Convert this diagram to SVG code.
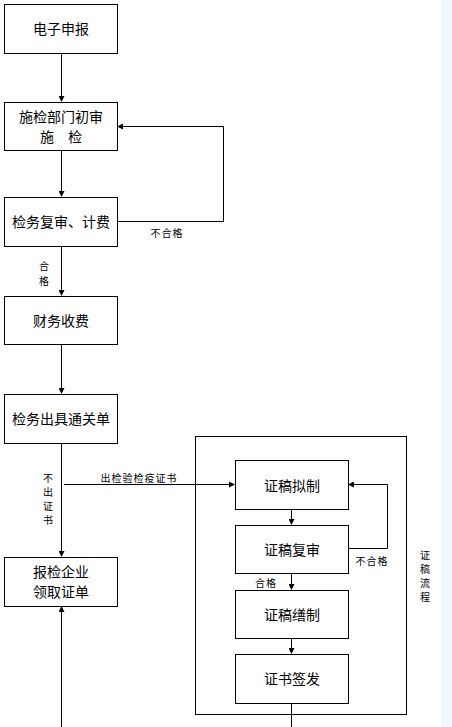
<svg xmlns="http://www.w3.org/2000/svg" width="452" height="727" viewBox="0 0 452 727">
<style>
.box{fill:#fff;stroke:#000;stroke-width:1}
.t{font-family:"Noto Sans CJK SC","Liberation Sans",sans-serif;font-size:14px;fill:#000;text-anchor:middle;dominant-baseline:central}
.s{font-family:"Noto Sans CJK SC","Liberation Sans",sans-serif;font-size:10px;fill:#000;text-anchor:middle;dominant-baseline:central}
.c{fill:none;stroke:#000;stroke-width:1}
</style>
<defs>
<marker id="ah" markerWidth="6" markerHeight="6" refX="5" refY="3" orient="auto" markerUnits="userSpaceOnUse">
<path d="M0,0 L6,3 L0,6 Z" fill="#000"/>
</marker>
</defs>
<rect width="452" height="727" fill="#fff"/>
<rect x="441" y="0" width="11" height="727" fill="#f0f9ff"/>
<g id="frame"><rect x="195.5" y="436.5" width="211" height="278" class="box" fill="none"/></g>
<g id="connectors">
<path class="c" d="M61.5,53 V101" marker-end="url(#ah)"/>
<path class="c" d="M61.5,150 V196" marker-end="url(#ah)"/>
<path class="c" d="M117,221.5 H223.5 V126.5 H118" marker-end="url(#ah)"/>
<path class="c" d="M61.5,247 V295" marker-end="url(#ah)"/>
<path class="c" d="M61.5,344 V393" marker-end="url(#ah)"/>
<path class="c" d="M61.5,443 V556" marker-end="url(#ah)"/>
<path class="c" d="M64,484.5 H234" marker-end="url(#ah)"/>
<path class="c" d="M61.5,727 V607" marker-end="url(#ah)"/>
<path class="c" d="M291.5,509 V524" marker-end="url(#ah)"/>
<path class="c" d="M348,548.5 H387.5 V484.5 H349" marker-end="url(#ah)"/>
<path class="c" d="M291.5,573 V589" marker-end="url(#ah)"/>
<path class="c" d="M291.5,638 V653" marker-end="url(#ah)"/>
<path class="c" d="M291.5,703 V727"/>
</g>
<g id="n1"><rect x="4.5" y="4.5" width="113" height="49" class="box"/><text class="t" x="61" y="28">电子申报</text></g>
<g id="n2"><rect x="4.5" y="102.5" width="113" height="48" class="box"/><text class="t" x="61" y="116">施检部门初审</text><text class="t" x="61" y="136" xml:space="preserve">施　检</text></g>
<g id="n3"><rect x="4.5" y="197.5" width="113" height="49" class="box"/><text class="t" x="61" y="221">检务复审、计费</text></g>
<g id="n4"><rect x="4.5" y="296.5" width="113" height="48" class="box"/><text class="t" x="61" y="320">财务收费</text></g>
<g id="n5"><rect x="4.5" y="394.5" width="113" height="49" class="box"/><text class="t" x="61" y="418">检务出具通关单</text></g>
<g id="n6"><rect x="4.5" y="557.5" width="113" height="49" class="box"/><text class="t" x="61" y="571">报检企业</text><text class="t" x="61" y="591">领取证单</text></g>
<g id="n7"><rect x="235.5" y="460.5" width="113" height="49" class="box"/><text class="t" x="292" y="485">证稿拟制</text></g>
<g id="n8"><rect x="235.5" y="525.5" width="113" height="48" class="box"/><text class="t" x="292" y="549">证稿复审</text></g>
<g id="n9"><rect x="235.5" y="590.5" width="113" height="48" class="box"/><text class="t" x="292" y="614">证稿缮制</text></g>
<g id="n10"><rect x="235.5" y="654.5" width="113" height="49" class="box"/><text class="t" x="292" y="678">证书签发</text></g>
<g id="labels">
<text class="s" x="167" y="232" letter-spacing="1">不合格</text>
<text class="s" x="44" y="265">合</text><text class="s" x="44" y="280">格</text>
<text class="s" x="48" y="477">不</text><text class="s" x="48" y="491">出</text><text class="s" x="48" y="505">证</text><text class="s" x="48" y="519">书</text>
<text class="s" x="139" y="477" letter-spacing="1">出检验检疫证书</text>
<text class="s" x="372" y="560" letter-spacing="1">不合格</text>
<text class="s" x="266" y="582" letter-spacing="1">合格</text>
<text class="s" x="425" y="554">证</text><text class="s" x="425" y="568">稿</text><text class="s" x="425" y="582">流</text><text class="s" x="425" y="596">程</text>
</g>
</svg>
